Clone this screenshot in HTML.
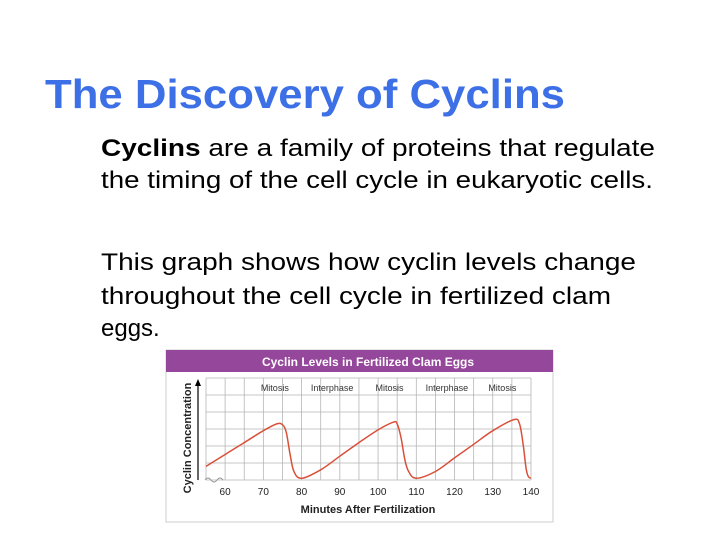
<!DOCTYPE html>
<html><head><meta charset="utf-8"><style>
html,body{margin:0;padding:0;background:#fff;}
svg{display:block;}
</style></head><body>
<svg id="s" width="720" height="540" viewBox="0 0 720 540" xmlns="http://www.w3.org/2000/svg" font-family="Liberation Sans, sans-serif">
<text x="45" y="108" font-size="41" font-weight="bold" fill="#3d6fe6" textLength="520" lengthAdjust="spacingAndGlyphs">The Discovery of Cyclins</text>
<g font-size="24" fill="#000">
<text x="101" y="156" textLength="554" lengthAdjust="spacingAndGlyphs"><tspan font-weight="bold">Cyclins</tspan> are a family of proteins that regulate</text>
<text x="101" y="188" textLength="552" lengthAdjust="spacingAndGlyphs">the timing of the cell cycle in eukaryotic cells.</text>
<text x="101" y="270" textLength="535" lengthAdjust="spacingAndGlyphs">This graph shows how cyclin levels change</text>
<text x="101" y="304" textLength="510" lengthAdjust="spacingAndGlyphs">throughout the cell cycle in fertilized clam</text>
<text x="101" y="336">eggs.</text>
</g>
<g id="chart">
<rect x="166" y="350" width="387" height="172" fill="#fff" stroke="#ccc" stroke-width="1"/>
<rect x="166" y="350" width="387" height="22" fill="#95479b"/>
<text x="368" y="366" font-size="12" font-weight="bold" fill="#fff" text-anchor="middle">Cyclin Levels in Fertilized Clam Eggs</text>
<g id="grid"></g>
<g id="phases" font-size="9" fill="#333" text-anchor="middle"></g>
<g id="ticks" font-size="10" fill="#222" text-anchor="middle"></g>
<path id="curve" fill="none" stroke="#d9503a" stroke-width="1.5"/>
<line x1="198" y1="480" x2="198" y2="384" stroke="#000" stroke-width="1.2"/>
<polygon points="198,379 195,386 201,386" fill="#000"/>
<path d="M205,480 q3,-4 6,0 t6,0 t6,0" fill="none" stroke="#999" stroke-width="1"/>
<text transform="translate(191,438) rotate(-90)" font-size="11" font-weight="bold" fill="#222" text-anchor="middle">Cyclin Concentration</text>
<text x="368" y="513" font-size="11" font-weight="bold" fill="#222" text-anchor="middle">Minutes After Fertilization</text>
</g>
</svg>
<script>
const minutes=[55,60,65,70,73.5,75,76,77,78,80,85,90,95,100,104,105,106,107,108,110,115,120,125,130,135.5,137,138,138.7,139.3,140];
const cyclin=[0.8,1.5,2.2,2.9,3.3,3.25,2.8,1.5,0.5,0.1,0.6,1.4,2.2,2.95,3.4,3.3,2.5,1.2,0.5,0.1,0.5,1.3,2.1,2.9,3.55,3.3,2.0,0.7,0.2,0.1];
const tickLabels=[60,70,80,90,100,110,120,130,140];
const phaseLabels=["Mitosis","Interphase","Mitosis","Interphase","Mitosis"];
const phaseCenters=[73,88,103,118,132.5];
const X0=206,X1=531,Y0=480,Y1=378,XMIN=55,XMAX=140,YMAX=6;
const xs=v=>X0+(v-XMIN)/(XMAX-XMIN)*(X1-X0);
const ys=v=>Y0-v/YMAX*(Y0-Y1);
const NS="http://www.w3.org/2000/svg";
const grid=document.getElementById('grid');
function ln(x1,y1,x2,y2){const l=document.createElementNS(NS,'line');


l.setAttribute('x1',x1);l.setAttribute('y1',y1);l.setAttribute('x2',x2);l.setAttribute('y2',y2);
l.setAttribute('stroke','#b5b5b5');l.setAttribute('stroke-width','0.8');grid.appendChild(l);}
for(let m=55;m<=140;m+=5)ln(xs(m),Y1,xs(m),Y0);
for(let k=0;k<=YMAX;k++)ln(X0,ys(k),X1,ys(k));
const tg=document.getElementById('ticks');
tickLabels.forEach(t=>{const e=document.createElementNS(NS,'text');


e.setAttribute('x',xs(t));e.setAttribute('y',495);e.textContent=t;tg.appendChild(e);});
const pg=document.getElementById('phases');
phaseLabels.forEach((p,i)=>{const e=document.createElementNS(NS,'text');


e.setAttribute('x',xs(phaseCenters[i]));e.setAttribute('y',391);e.textContent=p;pg.appendChild(e);});
const P=minutes.map((m,i)=>[xs(m),ys(cyclin[i])]);
let d='M'+P[0][0]+','+P[0][1];
for(let i=0;i<P.length-1;i++){const p0=P[Math.max(0,i-1)],p1=P[i],p2=P[i+1],p3=P[Math.min(P.length-1,i+2)];
const c1=[p1[0]+(p2[0]-p0[0])/6,p1[1]+(p2[1]-p0[1])/6],c2=[p2[0]-(p3[0]-p1[0])/6,p2[1]-(p3[1]-p1[1])/6];
d+=` C${c1[0]},${c1[1]} ${c2[0]},${c2[1]} ${p2[0]},${p2[1]}`;}
document.getElementById('curve').setAttribute('d',d);
</script>
</body></html>
